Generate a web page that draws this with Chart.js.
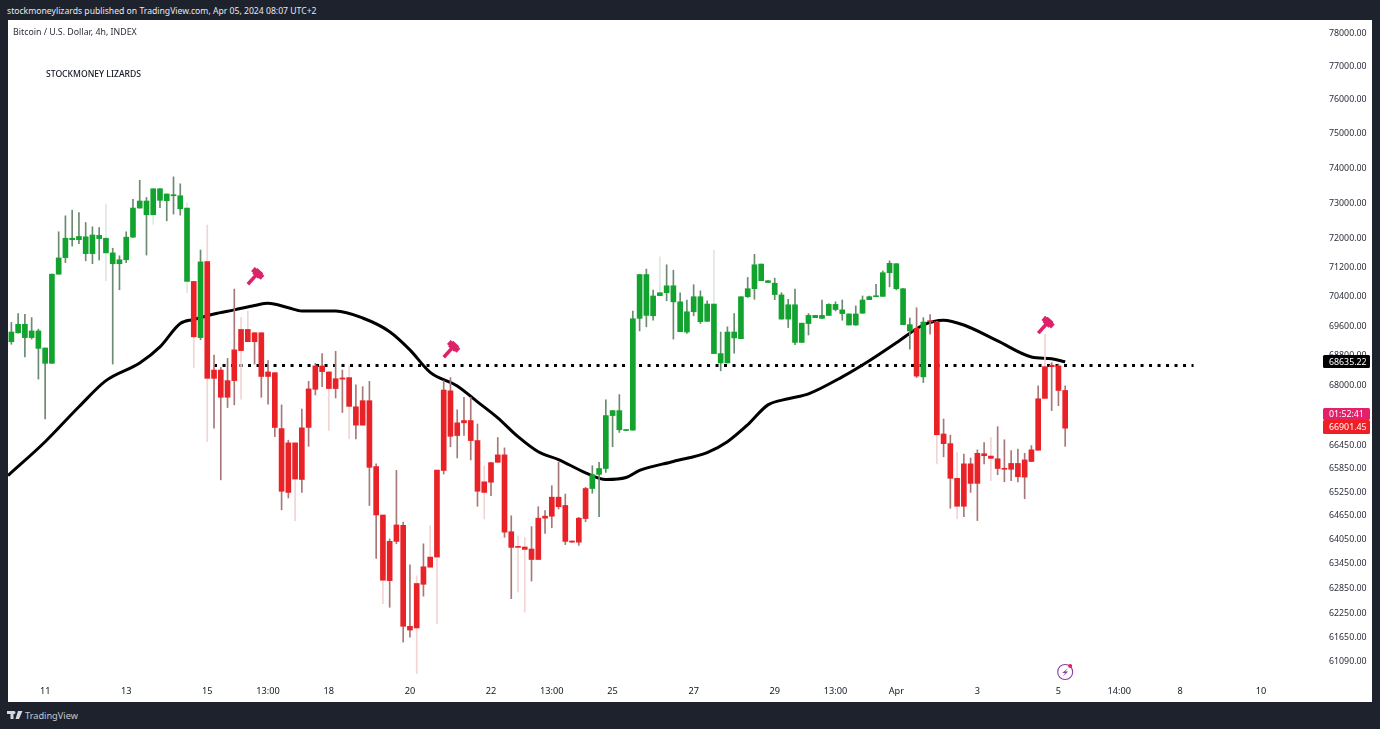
<!DOCTYPE html>
<html>
<head>
<meta charset="utf-8">
<title>BTC 4h</title>
<script src="https://cdn.jsdelivr.net/npm/chart.js@4"></script>
<style>
  html, body { margin: 0; padding: 0; width: 1380px; height: 729px; overflow: hidden; background: #1e222d; font-family: "Noto Sans", sans-serif; }
  #panel { position: absolute; left: 8px; top: 20px; width: 1364px; height: 682px; background: #fff; }
  canvas { position: absolute; left: 0; top: 0; }
  .txt { position: absolute; white-space: nowrap; }
  #published { left: 7px; top: 4px; font-size: 8.65px; line-height: 14px; color: #e6e8ee; }
  #symbol { left: 13px; top: 26px; font-size: 8.8px; line-height: 13px; color: #2a2e39; }
  #brand { left: 46px; top: 68px; font-size: 8.6px; line-height: 13px; color: #131722; font-weight: 500; }
  #tvname { left: 25px; top: 708px; font-size: 9.2px; line-height: 15px; color: #c5c8d0; }
  #tvlogo { position: absolute; left: 7px; top: 711px; }
</style>
</head>
<body>
<div id="panel"><canvas id="chart" width="1364" height="682"></canvas></div>
<div class="txt" id="published">stockmoneylizards published on TradingView.com, Apr 05, 2024 08:07 UTC+2</div>
<div class="txt" id="symbol">Bitcoin / U.S. Dollar, 4h, INDEX</div>
<div class="txt" id="brand">STOCKMONEY LIZARDS</div>
<svg id="tvlogo" width="16" height="9" viewBox="0 0 16 9"><path d="M0 0h6.5v8H3.5V3H0zM7 0a1.5 1.5 0 1 1 0 3a1.5 1.5 0 0 1 0-3zM11 0h4.5l-3.5 8H8.5z" fill="#d6d8de"/></svg>
<div class="txt" id="tvname">TradingView</div>

<script>
// candles (4h)
const wickHigh = [69700,69940,69920,69830,69520,69010,71020,72200,72650,72810,72740,72460,72340,72320,72980,71740,71530,72200,73120,73660,73170,73430,73420,73270,73760,73560,73020,70820,71690,72390,
  68820,68490,68730,70610,69830,70010,69420,69420,68670,68350,67500,66580,66510,67390,68120,68600,68860,68380,68920,68420,68530,68030,67980,68120,65970,64670,64070,65800,64490,63430,
  63160,63950,64400,65810,68140,68220,67370,67700,67700,67000,65920,66010,66650,66380,64650,64150,64110,64380,64880,64780,65410,66010,65200,64020,64610,65370,65920,66010,67630,67350,
  67770,66850,70010,71010,71160,70580,71500,71280,71130,70510,70310,70730,70560,70290,71690,69440,69580,69940,70400,70930,71570,71300,70840,70910,70510,70330,70610,69680,69940,69890,
  70310,70210,70260,70310,69930,70150,70420,70420,70740,71110,71390,71310,70620,69820,70100,69830,69910,69720,67130,66710,66270,66220,66120,66330,66520,66650,66930,66590,66310,66350,
  66240,66440,68000,69380,68620,68580,68000];
const bodyHigh = [69440,69650,69650,69470,69470,69010,71020,71470,72020,72020,72070,72060,72110,72100,72020,71610,71420,72050,72870,73070,73070,73420,73420,73270,73250,73220,72870,70820,71360,71370,
  68420,68420,68140,68960,69510,69510,69420,69420,68370,68350,66880,66510,66510,66900,67920,68530,68530,68370,68190,68210,68220,67450,67610,67610,65900,64670,64010,64420,64410,61930,
  62970,63380,63620,65810,67890,67870,67030,67090,67090,66570,65510,66000,66200,66200,64250,63880,63870,63820,64590,64640,65120,65120,64910,64020,64590,65340,65690,65850,67220,67350,
  67350,66850,69800,71010,71010,70420,70510,70700,70700,70260,69990,70400,70400,70200,70200,68860,69440,69440,70400,70620,71280,71300,70840,70770,70450,70180,70180,69680,69890,69890,
  69890,70190,70190,70040,69930,69930,70310,70400,70410,71060,71320,71310,70620,69640,69540,69710,69740,69720,66740,66490,65600,65970,65970,66240,66230,66170,66100,65850,65980,65980,
  66070,66330,67660,68510,68550,68530,67880];
const bodyLow = [69180,69420,69290,69290,69000,68600,68600,71020,71480,71980,71980,71590,71590,72010,71610,71310,71310,71420,72050,72870,72680,72680,73090,73080,73220,72850,70820,69310,69290,68200,
  68200,67700,67700,68140,68940,69180,69180,68250,68250,66910,65270,65240,65580,65570,66910,67910,68380,67930,67930,68180,67460,66970,66970,65880,64670,63050,63040,64010,61930,61840,
  61890,62950,63370,63620,65800,66680,66700,67030,66570,65270,65240,65500,66010,64240,63860,63860,63810,63560,63560,64590,64640,64880,64010,63990,63990,64580,65340,65700,65850,67220,
  66850,66830,66840,69810,69890,69880,70430,70510,70260,69450,69440,69990,69720,69730,68860,68610,68610,69280,69260,70400,70620,70840,70790,70460,69790,69790,69160,69160,69670,69830,
  69810,69890,70050,69940,69630,69630,69950,70320,70400,70410,71060,70620,69640,69470,68260,68240,69720,66720,66490,65600,64890,64890,65470,65470,66180,66110,65850,65830,65830,65640,
  65630,66030,66320,67670,68510,67880,66890];
const wickLow = [69110,69410,68770,69250,68180,67130,68600,71020,71340,71800,71870,71390,71310,71410,70840,68580,70590,71340,72040,72870,71550,72410,72880,72510,72700,72670,70510,68490,69230,66540,
  66890,65560,67430,67500,67650,69180,68580,67700,67520,66670,64800,65100,64530,65240,66420,67760,67980,66830,67680,67300,66610,66610,66970,64910,63590,62480,62390,63950,61550,61670,
  60800,62660,63370,61990,65710,66410,66120,66700,66070,64890,64570,65160,66010,64110,62600,62760,62270,63030,63560,64210,64350,64820,63930,63990,63910,64500,65220,64630,65750,66410,
  66780,66830,66840,69470,69580,69760,70430,70290,69250,69450,69400,69880,69670,69730,68860,68400,68610,68870,69260,70380,70330,70840,70790,70320,69790,69560,69100,69160,69360,69830,
  69810,69890,70010,69760,69630,69620,69950,70320,70400,70410,70670,70590,69640,68980,68220,68090,69380,65970,66150,64840,64570,64630,65240,64530,65970,65540,65690,65510,65540,65510,
  65080,66030,66320,67670,67350,67480,66420];

// candle colour flips at these indexes, starting green
const colourFlips = [27, 28, 29, 86, 134, 135, 136];
// candles whose wick is almost washed out in the picture
const faintWicks = [14, 21, 26, 27, 29, 34, 35, 42, 47, 50, 55, 60, 62, 63, 70, 75, 76, 96, 104, 137, 140, 145, 153];

// moving average, read at the visible bends
const maIndex = [-0.5,5,10,14,19,22,25,27,30,33,36,38,41,43,48,52,56,59,62,66,69,72,75,78,81,85,88,91,93,98,103,106,109,112,115,118,123,127,131,135,138,141,146,151,154,156];
const maValue = [65670,66540,67450,68140,68610,69040,69670,69780,69930,70040,70160,70220,70100,70010,70010,69820,69450,68960,68360,68000,67580,67160,66670,66280,66080,65740,65570,65620,65800,66030,66260,66540,66980,67500,67660,67790,68240,68670,69150,69630,69760,69630,69200,68770,68720,68640];

const levelFrom = 30;
const levelTo = 175;
const levelValue = 68540;

const priceTicks = [78000,77000,76000,75000,74000,73000,72000,71200,70400,69600,68800,68000,66450,65850,65250,64650,64050,63450,62850,62250,61650,61090];
const timeIndex = [5,17,29,38,47,59,71,80,89,101,113,122,131,143,155,164,173,185];
const timeLabels = ["11","13","15","13:00","18","20","22","13:00","25","27","29","13:00","Apr","3","5","14:00","8","10"];

const gavelIndex = [36, 65, 153];
const gavelValue = [70945, 68960, 69610];

const lastSlot = 191.5;
const priceMax = 78400;
const priceMin = 60650;

const GREEN = "#12a22e";
const RED = "#e92228";

function isGreen(i) {
  let g = true;
  colourFlips.forEach(f => { if (i >= f) g = !g; });
  return g;
}

const wickBars = wickHigh.map((h, i) => ({ x: i, y: [wickLow[i], h] }));
const bodyBars = bodyHigh.map((h, i) => ({ x: i, y: [bodyLow[i], h] }));
const bodyColours = bodyHigh.map((h, i) => isGreen(i) ? GREEN : RED);
const wickColours = bodyHigh.map((h, i) => {
  const faint = faintWicks.includes(i);
  if (isGreen(i)) return faint ? "#dfe8e0" : "#6b8a70";
  return faint ? "#f2d4d4" : "#a87878";
});

const maLine = maIndex.map((x, k) => ({ x: x, y: maValue[k] }));
const levelLine = [{ x: levelFrom, y: levelValue }, { x: levelTo, y: levelValue }];

function drawGavel(ctx, x, y) {
  ctx.save();
  ctx.translate(x, y);
  ctx.rotate(-48 * Math.PI / 180);
  ctx.fillStyle = "#dc2268";
  ctx.fillRect(-10, -1.8, 13, 3.6);
  ctx.fillRect(2, -6.5, 5.5, 13);
  ctx.fillRect(1, -4, 7.5, 8);
  ctx.restore();
}

function drawBolt(ctx, x, y) {
  ctx.save();
  ctx.strokeStyle = "#8e3aa8";
  ctx.lineWidth = 1.1;
  ctx.beginPath();
  ctx.arc(x, y, 7.5, 0, Math.PI * 2);
  ctx.stroke();
  ctx.fillStyle = "#8e3aa8";
  ctx.beginPath();
  ctx.moveTo(x + 3, y - 4);
  ctx.lineTo(x - 3, y + 1);
  ctx.lineTo(x, y + 1);
  ctx.lineTo(x - 2.5, y + 4.5);
  ctx.lineTo(x + 3, y - 0.5);
  ctx.lineTo(x, y - 0.5);
  ctx.closePath();
  ctx.fill();
  ctx.fillStyle = "#e0245e";
  ctx.beginPath();
  ctx.arc(x + 5, y - 6, 2, 0, Math.PI * 2);
  ctx.fill();
  ctx.restore();
}

function priceTag(ctx, top, height, bg, text) {
  ctx.fillStyle = bg;
  ctx.beginPath();
  ctx.roundRect(1315, top, 47, height, 1.5);
  ctx.fill();
  ctx.fillStyle = "#fff";
  ctx.font = '8.8px "Noto Sans"';
  ctx.textAlign = "left";
  ctx.textBaseline = "middle";
  ctx.fillText(text, 1321, top + height / 2 + 0.5);
}

const overlays = {
  id: "overlays",
  afterDraw(chart) {
    const ctx = chart.ctx;
    const x = chart.scales.x;
    const y = chart.scales.y;
    gavelIndex.forEach((g, k) => drawGavel(ctx, x.getPixelForValue(g), y.getPixelForValue(gavelValue[k])));
    drawBolt(ctx, x.getPixelForValue(156), 652);
    ctx.save();
    priceTag(ctx, 335, 13, "#000", "68635.22");
    priceTag(ctx, 388, 12, "#e5206a", "01:52:41");
    priceTag(ctx, 400, 14, "#ef1f26", "66901.45");
    ctx.restore();
  }
};

new Chart(document.getElementById("chart"), {
  type: "bar",
  plugins: [overlays],
  data: {
    datasets: [
      { label: "level", type: "line", data: levelLine, borderColor: "#000", borderWidth: 3, borderDash: [3, 5.5], pointRadius: 0, order: 4 },
      { label: "ma", type: "line", data: maLine, borderColor: "#000", borderWidth: 3, cubicInterpolationMode: "monotone", pointRadius: 0, order: 3 },
      { label: "wick", data: wickBars, backgroundColor: wickColours, barThickness: 1, grouped: false, order: 2 },
      { label: "body", data: bodyBars, backgroundColor: bodyColours, barThickness: 5, minBarLength: 1, grouped: false, order: 1 }
    ]
  },
  options: {
    responsive: false,
    animation: false,
    events: [],
    layout: { padding: 0 },
    plugins: { legend: { display: false }, tooltip: { enabled: false } },
    scales: {
      x: {
        type: "linear",
        offset: false,
        bounds: "data",
        min: -0.5,
        max: lastSlot,
        grid: { display: false, drawTicks: false },
        border: { display: false },
        ticks: {
          autoSkip: false, maxRotation: 0, padding: 6, color: "#131722",
          font: { family: "Noto Sans", size: 9.2 },
          callback: v => timeLabels[timeIndex.indexOf(v)]
        },
        afterBuildTicks: s => { s.ticks = timeIndex.map(v => ({ value: v })); },
        afterFit: s => { s.height = 22; s.paddingLeft = 0; s.paddingRight = 0; }
      },
      y: {
        type: "logarithmic",
        position: "right",
        bounds: "data",
        min: priceMin,
        max: priceMax,
        grid: { display: false, drawTicks: false },
        border: { display: false },
        ticks: {
          autoSkip: false, padding: 24, color: "#2a2e39",
          font: { family: "Noto Sans", size: 8.8 },
          callback: v => v.toFixed(2)
        },
        afterBuildTicks: s => { s.ticks = priceTicks.map(v => ({ value: v })); },
        afterFit: s => { s.width = 67; s.paddingTop = 0; s.paddingBottom = 0; }
      }
    }
  }
});
</script>
</body>
</html>
